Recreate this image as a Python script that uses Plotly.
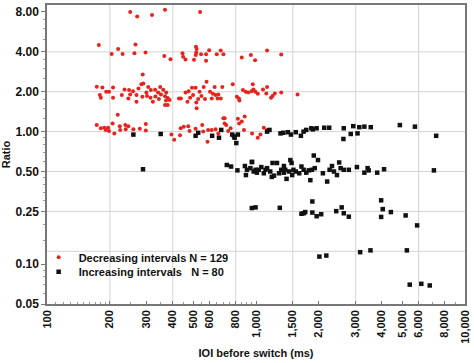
import plotly.graph_objects as go

# ---- data: decreasing intervals (red) ----
dec_ms = [250, 270, 318, 367, 540,
          177, 204, 219, 230, 265, 262, 296, 364, 390, 445, 448, 460, 505, 516, 520, 518, 515, 546, 577, 577, 597, 649, 678, 698, 855, 945, 990, 1130, 1320,
          287,
          173, 184, 207, 179, 181, 192, 198, 207, 228, 235, 245, 247, 250, 258, 268, 268, 274, 283, 289, 286, 299, 305, 301, 314, 313, 321, 329, 330, 340, 343,
          351, 348, 360, 367, 371, 372, 378, 378, 367, 386, 428, 437, 460, 476, 470, 484, 494, 500, 514, 518, 520, 529, 537, 548, 570, 580, 562, 603, 614, 622,
          634, 641, 655, 660, 678, 690, 774, 810, 829, 866, 892, 917, 952, 965, 972, 993, 1020, 1080, 1130, 1230, 1320, 1200, 1180, 1580, 1120, 833,
          218, 173, 181, 188, 191, 196, 198, 206, 210, 223, 224, 237, 238, 245, 259, 278, 297, 297, 406, 394, 433, 436, 451, 474, 481, 514, 553, 559, 586, 590,
          614, 641, 660, 698, 708, 708, 720, 736, 756, 819, 830, 855, 883, 876, 958, 1020, 1050, 1090, 1130]
dec_ratio = [8.0, 7.4, 7.6, 8.3, 8.0,
             4.5, 3.85, 4.2, 3.85, 4.55, 3.9, 3.95, 3.73, 3.52, 3.9, 3.67, 3.5, 3.48, 4.37, 4.2, 3.95, 3.78, 3.84, 3.84, 3.42, 4.12, 3.84, 4.1, 3.84, 3.63, 3.78, 3.46, 4.1, 3.82,
             2.7,
             2.18, 2.15, 2.15, 1.89, 1.80, 2.0, 2.0, 1.80, 1.89, 2.08, 1.78, 2.06, 1.91, 2.02, 1.89, 1.68, 2.12, 2.28, 2.31, 1.83, 1.97, 2.17, 1.86, 2.06, 1.80, 1.68, 2.07, 1.84, 1.97, 1.76,
             1.91, 2.17, 2.07, 1.85, 1.72, 1.97, 1.79, 1.59, 1.59, 1.73, 1.78, 1.78, 1.97, 2.02, 1.68, 1.80, 2.14, 1.89, 2.14, 1.66, 1.50, 1.76, 2.0, 1.86, 1.76, 2.38, 2.17, 2.0, 1.78, 1.93,
             2.17, 1.89, 1.78, 1.91, 1.78, 2.17, 2.28, 1.83, 1.78, 2.06, 2.0, 1.97, 2.02, 2.28, 2.08, 2.0, 1.93, 2.08, 2.17, 1.94, 1.97, 1.86, 1.80, 1.91, 1.94, 1.72,
             1.34, 1.12, 1.06, 1.07, 1.03, 1.07, 1.01, 1.15, 0.97, 1.10, 1.03, 1.12, 1.04, 1.10, 1.04, 1.05, 1.14, 1.02, 0.87, 0.95, 0.94, 1.06, 1.09, 1.10, 1.01, 1.05, 1.12, 1.0, 0.84, 1.03,
             1.03, 1.04, 0.97, 1.26, 1.26, 1.15, 1.12, 1.01, 1.06, 1.25, 1.15, 1.19, 1.30, 1.03, 0.97, 0.90, 0.95, 1.07, 1.03]

# ---- data: increasing intervals (black) ----
inc_ms = [259, 350, 514, 529, 617, 665, 682, 770, 785, 790, 805, 819, 1130, 1160, 1310, 1350, 1420, 1470, 1550, 1640, 1690, 1740, 1840, 1870, 1950,
          2120, 2240, 2630, 2620, 2840, 2920, 3060, 3120, 3300, 3540, 4880, 5760, 7280,
          288, 958, 725, 760, 815, 885, 905, 895, 940, 955, 975, 995, 1010, 1030, 1060, 1090, 1110, 1130, 1170, 1200, 1190, 1220, 1260, 1290, 1320, 1360, 1360,
          1380, 1400, 1440, 1460, 1480, 1510, 1490, 1550, 1610, 1650, 1690, 1740, 1790, 1820, 1850, 1890, 1910, 1980, 2090, 2190, 2250, 2310, 2360, 2440,
          2500, 2540, 2630, 2780, 3040, 3300, 3420, 3460, 3800, 4100, 7100,
          955, 995, 1300, 1650, 1690, 1720, 1860, 1860, 1950, 2050, 2420, 2570, 2630, 2780, 3970, 4040, 3970, 4420, 5200, 5900,
          2010, 2170, 3150, 3530, 5270, 5440, 6180, 6780]
inc_ratio = [0.95, 0.96, 0.93, 0.98, 0.93, 0.90, 1.03, 0.95, 0.92, 0.90, 0.82, 0.95, 1.0, 1.03, 0.97, 0.98, 0.99, 0.95, 0.99, 0.93, 1.0, 1.03, 1.06, 1.04, 1.06,
             1.07, 1.07, 1.06, 0.88, 0.96, 1.10, 0.97, 1.08, 1.09, 1.08, 1.12, 1.09, 0.93,
             0.52, 0.59, 0.56, 0.545, 0.51, 0.55, 0.515, 0.47, 0.53, 0.59, 0.50, 0.515, 0.49, 0.515, 0.54, 0.485, 0.515, 0.53, 0.50, 0.58, 0.455, 0.465, 0.58, 0.485, 0.515, 0.55, 0.49,
             0.515, 0.44, 0.50, 0.61, 0.58, 0.515, 0.47, 0.50, 0.485, 0.545, 0.515, 0.49, 0.51, 0.43, 0.515, 0.66, 0.53, 0.61, 0.485, 0.42, 0.515, 0.55, 0.50, 0.47,
             0.585, 0.53, 0.515, 0.515, 0.54, 0.49, 0.53, 0.51, 0.49, 0.52, 0.51,
             0.265, 0.268, 0.266, 0.24, 0.242, 0.247, 0.297, 0.245, 0.23, 0.238, 0.251, 0.268, 0.242, 0.228, 0.303, 0.26, 0.227, 0.247, 0.233, 0.196,
             0.114, 0.116, 0.123, 0.127, 0.127, 0.070, 0.071, 0.069]

x_tick_vals = [100, 200, 300, 400, 500, 600, 800, 1000, 1500, 2000, 3000, 4000, 5000, 6000, 8000, 10000]
x_tick_text = ["100", "200", "300", "400", "500", "600", "800", "1,000", "1,500", "2,000", "3,000", "4,000", "5,000", "6,000", "8,000", "10,000"]
y_tick_vals = [0.05, 0.10, 0.25, 0.50, 1.00, 2.00, 4.00, 8.00]
y_tick_text = ["0.05", "0.10", "0.25", "0.50", "1.00", "2.00", "4.00", "8.00"]
x_grid = [200, 400, 800, 1500, 3000, 6000]
y_grid = [0.125, 0.25, 0.5, 1, 2, 4]

font = "Liberation Sans, Arial, sans-serif"
legend_font = dict(family=font, size=11, color="#111111", weight="bold")

fig = go.Figure()
fig.add_trace(go.Scatter(x=dec_ms, y=dec_ratio, mode="markers", name="Decreasing intervals N = 129",
                         marker=dict(symbol="circle", size=4, color="#e8231e"), legend="legend"))
fig.add_trace(go.Scatter(x=inc_ms, y=inc_ratio, mode="markers",
                         name="Increasing intervals\u00a0\u00a0\u00a0N = 80",
                         marker=dict(symbol="square", size=4.5, color="#111111"), legend="legend2"))

shapes = []
for g in x_grid:
    shapes.append(dict(type="line", xref="x", yref="paper", x0=g, x1=g, y0=0, y1=1,
                       line=dict(color="#d4d4d4", width=1), layer="below"))
for g in y_grid:
    shapes.append(dict(type="line", xref="paper", yref="y", x0=0, x1=1, y0=g, y1=g,
                       line=dict(color="#d4d4d4", width=1), layer="below"))

x_minor = [v * m for v in [100, 1000] for m in range(2, 10)] + [110, 120, 130, 140, 150, 160, 170, 180, 190,
                                                                 250, 350, 450, 550, 650, 700, 750, 850, 900, 950]
y_minor = [0.06, 0.07, 0.08, 0.09, 0.15, 0.2, 0.3, 0.35, 0.4, 0.45, 0.6, 0.7, 0.8, 0.9,
           1.25, 1.5, 1.75, 2.5, 3, 3.5, 5, 6, 7]

fig.update_layout(
    width=474, height=363,
    margin=dict(l=47, r=9, t=3, b=59),
    paper_bgcolor="white", plot_bgcolor="white",
    font=dict(family=font, color="#111111"),
    shapes=shapes,
    showlegend=True,
    legend=dict(x=-0.02, y=0.156, xanchor="left", yanchor="middle", bgcolor="rgba(0,0,0,0)",
                font=legend_font, borderwidth=0),
    legend2=dict(x=-0.02, y=0.108, xanchor="left", yanchor="middle", bgcolor="rgba(0,0,0,0)",
                 font=legend_font, borderwidth=0),
    xaxis=dict(type="log", range=[2, 4], tickmode="array", tickvals=x_tick_vals, ticktext=x_tick_text,
               tickangle=-90, tickfont=dict(size=11, family=font, weight="bold", color="#111111"),
               showgrid=False, zeroline=False, showline=True, linecolor="#777777", linewidth=1.5, mirror=True,
               ticks="inside", ticklen=3, tickcolor="#777777",
               minor=dict(tickvals=x_minor, ticks="inside", ticklen=2, tickcolor="#999999", showgrid=False),
               title=dict(text="IOI before switch (ms)", font=dict(size=11, family=font, weight="bold", color="#111111"),
                          standoff=6)),
    yaxis=dict(type="log", range=[-1.30103, 0.9557], tickmode="array", tickvals=y_tick_vals, ticktext=y_tick_text,
               tickfont=dict(size=12, family=font, weight="bold", color="#111111"),
               showgrid=False, zeroline=False, showline=True, linecolor="#777777", linewidth=1.5, mirror=True,
               ticks="outside", ticklen=4, tickcolor="#777777",
               minor=dict(tickvals=y_minor, ticks="outside", ticklen=2, tickcolor="#999999", showgrid=False),
               title=dict(text="Ratio", font=dict(size=11, family=font, weight="bold", color="#111111"),
                          standoff=4)),
)

fig.write_html("out.html", config={"displayModeBar": False},
               post_script="document.body.style.margin='0';document.body.style.padding='0';"
                           "document.body.style.overflow='hidden';")
